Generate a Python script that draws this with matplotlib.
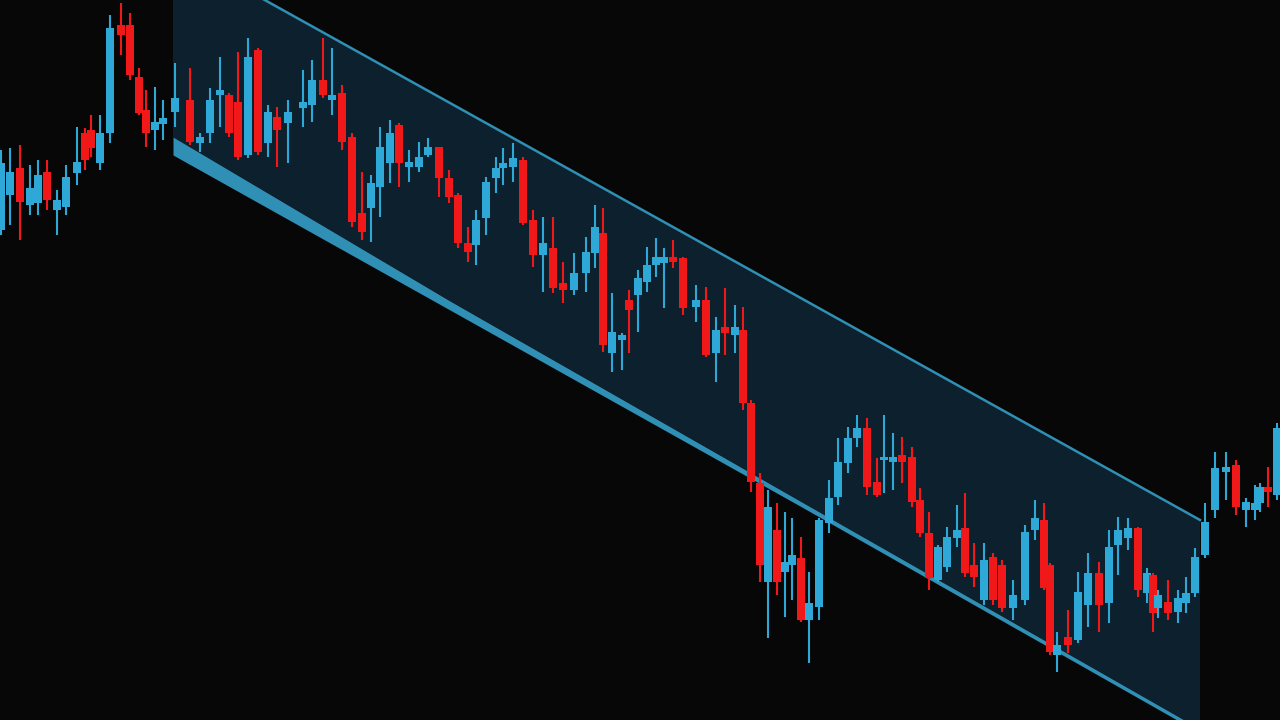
import numpy as np
import matplotlib
matplotlib.use("Agg")
import matplotlib.pyplot as plt

# candle times (minutes) and OHLC prices
t = [1, 10, 20, 30, 38, 47, 57, 66, 77, 85, 91, 100, 110, 121, 130, 139, 146, 155, 163, 175,
     190, 200, 210, 220, 229, 238, 248, 258, 268, 277, 288, 303, 312, 323, 332, 342, 352, 362, 371, 380,
     390, 399, 409, 419, 428, 439, 449, 458, 468, 476, 486, 496, 503, 513, 523, 533, 543, 553, 563, 574,
     586, 595, 603, 612, 622, 629, 638, 647, 656, 664, 673, 683, 696, 706, 716, 725, 735, 743, 751, 760,
     768, 777, 785, 792, 801, 809, 819, 829, 838, 848, 857, 867, 877, 884, 893, 902, 912, 920, 929, 938,
     947, 957, 965, 974, 984, 993, 1002, 1013, 1025, 1035, 1044, 1050, 1057, 1068, 1078, 1088, 1099, 1109, 1118, 1128,
     1138, 1147, 1153, 1158, 1168, 1178, 1186, 1195, 1205, 1215, 1226, 1236, 1246, 1255, 1260, 1268, 1277]

opn = [490, 525, 552, 515, 517, 548, 510, 513, 547, 587, 590, 557, 587, 695, 695, 643, 610, 590, 596, 608,
       620, 577, 587, 625, 625, 618, 565, 670, 577, 603, 597, 612, 615, 640, 620, 627, 583, 507, 512, 533,
       557, 595, 553, 553, 565, 573, 542, 525, 477, 475, 502, 542, 552, 553, 560, 500, 465, 472, 437, 430,
       447, 467, 487, 367, 380, 420, 425, 438, 455, 457, 463, 462, 413, 420, 367, 393, 385, 390, 317, 237,
       138, 190, 148, 155, 162, 100, 113, 197, 223, 257, 282, 292, 238, 260, 258, 265, 263, 220, 187, 140,
       153, 182, 192, 155, 120, 163, 155, 112, 120, 190, 200, 155, 65, 83, 80, 115, 147, 117, 175, 182,
       192, 127, 145, 112, 118, 108, 117, 127, 165, 210, 248, 255, 210, 210, 217, 233, 225]

high = [570, 572, 575, 555, 560, 560, 530, 555, 593, 592, 605, 605, 705, 717, 707, 652, 630, 633, 620, 657,
        652, 587, 632, 663, 627, 668, 682, 672, 615, 613, 620, 650, 660, 682, 672, 635, 587, 548, 545, 593,
        600, 597, 570, 578, 582, 573, 550, 527, 493, 510, 543, 563, 572, 577, 563, 510, 503, 503, 458, 467,
        483, 515, 512, 427, 387, 430, 450, 473, 482, 472, 480, 463, 435, 433, 403, 432, 415, 413, 320, 247,
        230, 217, 208, 202, 183, 148, 202, 240, 282, 293, 305, 302, 262, 305, 287, 283, 273, 232, 208, 175,
        193, 215, 227, 177, 177, 167, 160, 140, 195, 220, 217, 157, 88, 110, 148, 167, 158, 190, 203, 202,
        193, 152, 147, 130, 140, 130, 143, 172, 217, 268, 268, 260, 222, 235, 237, 253, 297]

low = [485, 495, 480, 505, 505, 510, 485, 505, 535, 550, 563, 550, 577, 665, 640, 605, 573, 570, 580, 593,
       575, 568, 577, 593, 583, 560, 562, 565, 563, 553, 557, 593, 598, 622, 605, 570, 493, 480, 478, 503,
       537, 533, 538, 548, 563, 523, 517, 472, 458, 455, 485, 527, 535, 538, 495, 453, 428, 427, 417, 425,
       428, 452, 368, 348, 350, 367, 388, 428, 443, 412, 452, 405, 398, 363, 338, 365, 367, 310, 228, 138,
       82, 125, 103, 120, 98, 57, 100, 187, 215, 247, 273, 225, 223, 227, 230, 237, 213, 183, 130, 138,
       148, 173, 143, 133, 115, 115, 108, 100, 115, 180, 130, 65, 48, 67, 77, 93, 88, 97, 145, 170,
       123, 117, 88, 102, 100, 97, 107, 123, 162, 202, 220, 205, 193, 200, 208, 213, 220]

close = [557, 548, 518, 532, 545, 520, 520, 543, 558, 560, 572, 587, 692, 685, 645, 607, 587, 598, 602, 622,
         578, 583, 620, 630, 587, 563, 663, 568, 608, 590, 608, 618, 640, 625, 625, 578, 498, 488, 537, 573,
         587, 557, 558, 563, 573, 542, 523, 477, 468, 500, 538, 552, 557, 562, 497, 465, 477, 432, 430, 447,
         468, 493, 375, 388, 385, 410, 442, 455, 463, 463, 458, 412, 420, 365, 390, 387, 393, 317, 238, 155,
         213, 138, 158, 165, 100, 117, 200, 222, 258, 282, 292, 233, 225, 263, 263, 258, 218, 187, 142, 173,
         183, 190, 147, 143, 160, 120, 112, 125, 188, 202, 132, 68, 75, 75, 128, 147, 115, 173, 190, 192,
         130, 147, 107, 125, 107, 122, 127, 163, 198, 252, 253, 213, 218, 217, 233, 228, 292]

# descending channel drawn on the chart
chan_t = [173, 1200]
chan_upper = [771, 200]
band_t = [173, 450, 800, 1200]
band_hi = [583, 419, 219, -9]
band_lo = [565, 410, 214, -13]

bg = "#070707"
up_col = "#2ea8d6"
down_col = "#f01818"
line_col = "#2f8fb5"
fill_col = "#0d202d"

t = np.array(t)
opn = np.array(opn)
high = np.array(high)
low = np.array(low)
close = np.array(close)

fig = plt.figure(figsize=(12.8, 7.2), dpi=100, facecolor=bg)
ax = fig.add_axes([0, 0, 1, 1])
ax.set_facecolor(bg)

# channel fill, between upper line and lower band
xs = np.linspace(chan_t[0], chan_t[1], 200)
up_y = np.interp(xs, chan_t, chan_upper)
lo_y = np.interp(xs, band_t, band_hi)
ax.fill_between(xs, lo_y, up_y, color=fill_col, zorder=1, lw=0)
ax.plot(chan_t, chan_upper, color=line_col, lw=1.8, zorder=2)
ax.fill_between(band_t, band_lo, band_hi, color=line_col, zorder=2, lw=0)

# candles
cols = np.where(close >= opn, up_col, down_col)
ax.vlines(t, low, high, colors=cols, lw=1.5, zorder=3)
body = close - opn
body = np.where(np.abs(body) < 3, np.where(body >= 0, 3, -3), body)
ax.bar(t, body, bottom=opn, width=7.4, color=cols, zorder=4, lw=0)

ax.set_xlim(0, 1280)
ax.set_ylim(0, 720)
ax.axis("off")

fig.savefig("out.png", dpi=100, facecolor=bg)
